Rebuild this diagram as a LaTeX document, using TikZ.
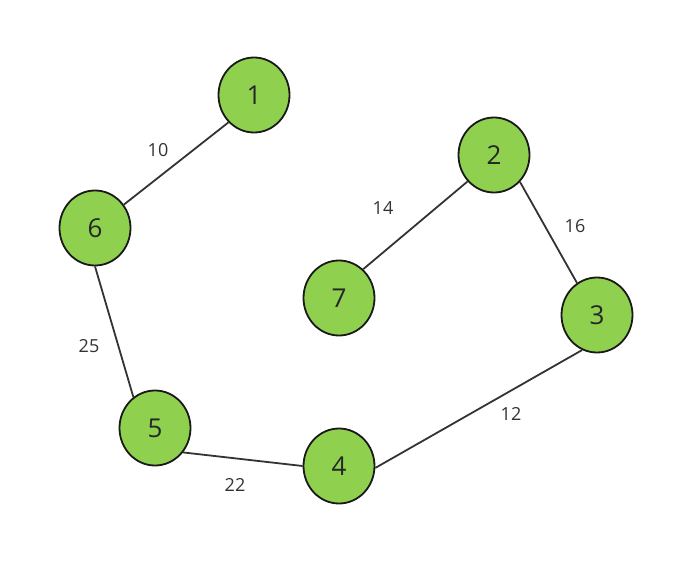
\documentclass[tikz,border=0pt]{standalone}
\usepackage{fontspec}
\setmainfont{Open Sans}
\usepackage{tikz}
\usetikzlibrary{shapes.geometric}
\definecolor{vgreen}{HTML}{8FD14F}
\definecolor{vline}{HTML}{333333}
\tikzstyle{vertex} = [ellipse, minimum width=71pt, minimum height=75pt, inner sep=0pt, draw=black!90, line width=1.8pt, fill=vgreen, font=\fontsize{26}{30}\selectfont, text=black!85]
\tikzstyle{weight} = [font=\fontsize{18}{22}\selectfont, text=black!80]
\tikzstyle{link} = [draw=vline, line width=1.8pt]

\begin{document}
\begin{tikzpicture}[x=1pt, y=-1pt]
			\useasboundingbox (0,0) rectangle (700,580);
			\node[vertex] (1) at (254,95) {1};
			\node[vertex] (2) at (494,155) {2};
			\node[vertex] (3) at (597,315) {3};
			\node[vertex] (4) at (339,466) {4};
			\node[vertex] (5) at (155,428) {5};
			\node[vertex] (6) at (95,228) {6};
			\node[vertex] (7) at (339,298) {7};
			
			\node[weight] (w16) at (158,150) {10};
			\node[weight] (w27) at (383,208) {14};
			\node[weight] (w23) at (575,226) {16};
			\node[weight] (w65) at (89,346) {25};
			\node[weight] (w34) at (511,414) {12};
			\node[weight] (w54) at (235,485) {22};
			
			\draw [link] (1.227) -- (6.39);
			\draw [link] (6.south) -- (5.125);
			\draw [link] (5.-41) -- (4.west);
			\draw [link] (4.-3) -- (3.247);
			\draw [link] (3.122) -- (2.-46);
			\draw [link] (2.225) -- (7.50);
			
		\end{tikzpicture}
\end{document}
